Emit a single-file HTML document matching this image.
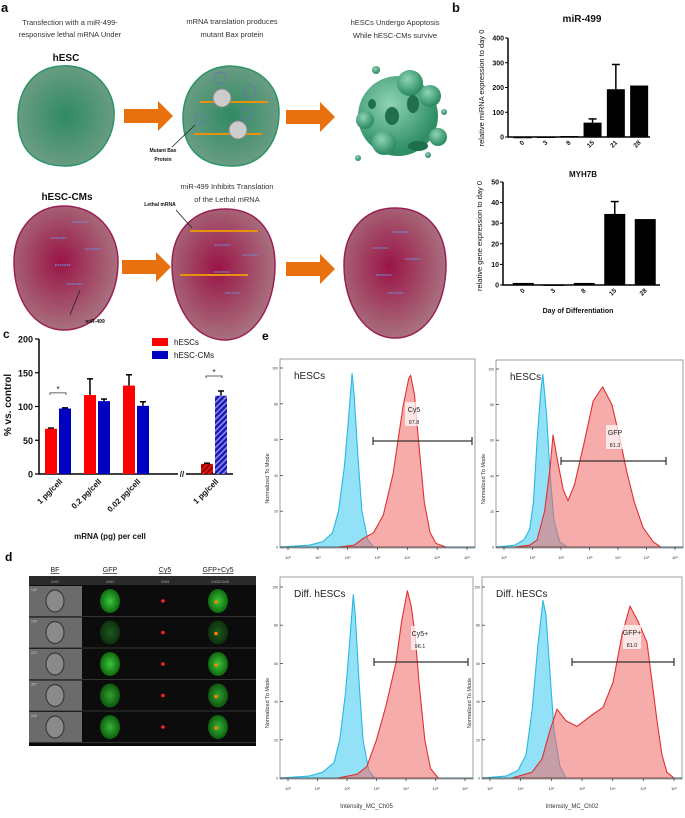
<!DOCTYPE html>
<html><head><meta charset="utf-8"><style>
html,body{margin:0;padding:0;background:#fff;}
svg{display:block;font-family:"Liberation Sans",sans-serif;}
</style></head><body>
<svg id="fig" width="685" height="818" viewBox="0 0 685 818" xmlns="http://www.w3.org/2000/svg">
<defs>
<radialGradient id="gG" cx="50%" cy="50%" r="55%"><stop offset="0" stop-color="#2f8a62"/><stop offset="1" stop-color="#6e9e86"/></radialGradient>
<radialGradient id="gP" cx="45%" cy="45%" r="55%"><stop offset="0" stop-color="#9a1446"/><stop offset="1" stop-color="#a8707e"/></radialGradient>
<radialGradient id="gB" cx="40%" cy="35%" r="60%"><stop offset="0" stop-color="#8fd4b4"/><stop offset="1" stop-color="#2f8e66"/></radialGradient>
<radialGradient id="gGFP" cx="50%" cy="50%" r="50%"><stop offset="0" stop-color="#3ec63e"/><stop offset="1" stop-color="#0d6a0d"/></radialGradient>
<pattern id="hatchR" width="4" height="4" patternUnits="userSpaceOnUse" patternTransform="rotate(45)"><rect width="4" height="4" fill="#e01010"/><rect width="1.5" height="4" fill="#7a0000"/></pattern>
<pattern id="hatchB" width="4" height="4" patternUnits="userSpaceOnUse" patternTransform="rotate(45)"><rect width="4" height="4" fill="#1a1ab8"/><rect width="1.5" height="4" fill="#8f8fe8"/></pattern>
</defs>

<!-- PANEL A -->
<g font-size="7.5" fill="#333" text-anchor="middle">
<text x="1" y="12" font-size="13" font-weight="bold" text-anchor="start" fill="#000">a</text>
<text x="70" y="25">Transfection with a miR-499-</text>
<text x="70" y="37">responsive lethal mRNA Under</text>
<text x="232" y="24">mRNA translation produces</text>
<text x="232" y="37">mutant Bax protein</text>
<text x="395" y="25">hESCs Undergo Apoptosis</text>
<text x="395" y="38">While hESC-CMs survive</text>
<text x="66" y="61" font-size="10" font-weight="bold" fill="#111">hESC</text>
<path d="M62 66 C90 64 112 85 114 110 C116 140 95 166 66 166 C35 166 18 150 18 118 C18 88 35 67 62 66Z" fill="url(#gG)" stroke="#2a9468" stroke-width="1.5"/>
<path d="M124 109 h34 v-8 l15 15 l-15 15 v-8 h-34z" fill="#e8700f"/>
<path d="M228 66 C262 66 279 88 279 112 C279 142 262 166 232 166 C200 166 183 148 183 118 C183 90 200 68 228 66Z" fill="url(#gG)" stroke="#2a9468" stroke-width="1.5"/>
<line x1="200" y1="102" x2="268" y2="102" stroke="#e8900f" stroke-width="2"/>
<line x1="194" y1="134" x2="262" y2="134" stroke="#e8900f" stroke-width="2"/>
<circle cx="222" cy="98" r="9" fill="#ccc" stroke="#888"/>
<circle cx="238" cy="130" r="9" fill="#ccc" stroke="#888"/>
<g fill="none" stroke="#6678a8" stroke-width="1"><circle cx="220" cy="78" r="6"/><circle cx="250" cy="91" r="6"/><circle cx="200" cy="119" r="5"/><circle cx="246" cy="114" r="6"/></g>
<line x1="172" y1="147" x2="195" y2="125" stroke="#222" stroke-width="0.8"/>
<text x="163" y="152" font-size="5" font-weight="bold" fill="#111">Mutant Bax</text>
<text x="163" y="161" font-size="5" font-weight="bold" fill="#111">Protein</text>
<path d="M286 110 h34 v-8 l15 15 l-15 15 v-8 h-34z" fill="#e8700f"/>
<g>
<circle cx="398" cy="116" r="40" fill="url(#gB)"/>
<circle cx="410" cy="83" r="13" fill="url(#gB)"/><circle cx="430" cy="96" r="11" fill="url(#gB)"/><circle cx="365" cy="120" r="9" fill="url(#gB)"/><circle cx="384" cy="143" r="12" fill="url(#gB)"/><circle cx="438" cy="137" r="9" fill="url(#gB)"/><circle cx="376" cy="70" r="4" fill="url(#gB)"/><circle cx="444" cy="112" r="3" fill="url(#gB)"/><circle cx="358" cy="158" r="3" fill="url(#gB)"/><circle cx="428" cy="155" r="3" fill="url(#gB)"/>
<ellipse cx="392" cy="116" rx="7" ry="9" fill="#1f6e4c"/><ellipse cx="413" cy="104" rx="6" ry="9" fill="#1f6e4c"/><ellipse cx="418" cy="146" rx="10" ry="5" fill="#1f6e4c"/><ellipse cx="372" cy="104" rx="4" ry="5" fill="#1f6e4c"/>
</g>
<text x="227" y="189">miR-499 Inhibits Translation</text>
<text x="227" y="202">of the Lethal mRNA</text>
<text x="67" y="200" font-size="10" font-weight="bold" fill="#111">hESC-CMs</text>
<path d="M64 206 C95 206 118 230 118 262 C118 300 96 330 64 330 C34 330 14 300 14 262 C14 230 34 206 64 206Z" fill="url(#gP)" stroke="#9a1f55" stroke-width="1.5"/>
<path d="M122 260 h34 v-8 l15 15 l-15 15 v-8 h-34z" fill="#e8700f"/>
<path d="M225 209 C258 209 275 232 275 265 C275 305 255 340 225 340 C193 340 172 305 172 265 C172 232 193 209 225 209Z" fill="url(#gP)" stroke="#9a1f55" stroke-width="1.5"/>
<line x1="190" y1="231" x2="258" y2="231" stroke="#e8900f" stroke-width="2"/>
<line x1="180" y1="275" x2="248" y2="275" stroke="#e8900f" stroke-width="2"/>
<text x="160" y="206" font-size="5" font-weight="bold" fill="#111">Lethal mRNA</text>
<line x1="176" y1="210" x2="192" y2="228" stroke="#222" stroke-width="0.8"/>
<path d="M286 262 h34 v-8 l15 15 l-15 15 v-8 h-34z" fill="#e8700f"/>
<path d="M395 208 C428 208 446 232 446 265 C446 305 426 338 395 338 C365 338 344 305 344 265 C344 232 364 208 395 208Z" fill="url(#gP)" stroke="#9a1f55" stroke-width="1.5"/>
<g stroke="#7a82c8" stroke-width="1.5" stroke-dasharray="1.5 0.8">
<line x1="72" y1="222" x2="88" y2="222"/><line x1="51" y1="238" x2="67" y2="238"/><line x1="85" y1="249" x2="101" y2="249"/><line x1="55" y1="265" x2="71" y2="265"/><line x1="67" y1="284" x2="83" y2="284"/>
<line x1="215" y1="245" x2="231" y2="245"/><line x1="243" y1="255" x2="259" y2="255"/><line x1="225" y1="293" x2="241" y2="293"/><line x1="214" y1="272" x2="230" y2="272"/>
<line x1="393" y1="232" x2="409" y2="232"/><line x1="373" y1="248" x2="389" y2="248"/><line x1="405" y1="259" x2="421" y2="259"/><line x1="376" y1="275" x2="392" y2="275"/><line x1="388" y1="293" x2="404" y2="293"/>
</g>
<line x1="80" y1="290" x2="70" y2="315" stroke="#222" stroke-width="0.8"/>
<text x="95" y="323" font-size="5" font-weight="bold" fill="#111">miR-499</text>
</g>

<!-- PANEL B -->
<g id="panelB" font-size="7" fill="#111">
<text x="452" y="12" font-size="13" font-weight="bold">b</text>
<text x="582" y="22" font-size="10" font-weight="bold" text-anchor="middle">miR-499</text>
<text x="583" y="177" font-size="8" font-weight="bold" text-anchor="middle">MYH7B</text>
<text transform="translate(484,88) rotate(-90)" font-size="7.5" text-anchor="middle">relative miRNA expression to day 0</text>
<text transform="translate(482,236) rotate(-90)" font-size="7.5" text-anchor="middle">relative gene expression to day 0</text>
<text x="578" y="313" font-size="7" font-weight="bold" text-anchor="middle">Day of Differentiation</text>
</g>

<!-- PANEL C -->
<g id="panelC" fill="#111">
<text x="3" y="338" font-size="12" font-weight="bold">c</text>
<text transform="translate(11,405) rotate(-90)" font-size="10" font-weight="bold" text-anchor="middle">% vs. control</text>
<text x="110" y="539" font-size="8" font-weight="bold" text-anchor="middle">mRNA (pg) per cell</text>
<rect x="152" y="338" width="16" height="8" fill="#ff0000"/>
<text x="174" y="345" font-size="8">hESCs</text>
<rect x="152" y="351" width="16" height="8" fill="#0000c0"/>
<text x="174" y="358" font-size="8">hESC-CMs</text>
</g>

<!-- PANEL D -->
<g id="panelD">
<text x="5" y="561" font-size="12" font-weight="bold">d</text>
<g font-size="7" fill="#222" text-anchor="middle" text-decoration="underline">
<text x="55" y="572">BF</text>
<text x="110" y="572">GFP</text>
<text x="165" y="572">Cy5</text>
<text x="218" y="572">GFP+Cy5</text>
</g>
<rect x="29" y="576" width="227" height="170" fill="#0c0c0c"/>
<rect x="29" y="576" width="227" height="9" fill="#2a2a2a"/>
<g font-size="3.5" fill="#aaa" text-anchor="middle"><text x="55" y="583">Ch01</text><text x="110" y="583">Ch02</text><text x="165" y="583">Ch05</text><text x="220" y="583">Ch02/Ch05</text></g>
</g>

<!-- PANEL E -->
<g id="panelE">
<text x="262" y="340" font-size="12" font-weight="bold">e</text>
</g>
</svg>

<script>
var NS="http://www.w3.org/2000/svg";
function mk(parent,tag,attrs,text){var e=document.createElementNS(NS,tag);for(var k in attrs)e.setAttribute(k,attrs[k]);if(text!==undefined)e.textContent=text;parent.appendChild(e);return e;}

/* ---------- Panel B data ---------- */
var mirDays=["0","3","8","15","21","28"];
var mirValues=[1,2,4,58,193,208];
var mirErrors=[0,0,0,15,100,0];
var mirTicks=[0,100,200,300,400];
var myhDays=["0","3","8","15","28"];
var myhValues=[1,0.3,1,34.5,32];
var myhErrors=[0,0,0,6,0];
var myhTicks=[0,10,20,30,40,50];

function barChart(g,cfg){
  var yS=function(v){return cfg.y0-(v/cfg.max)*(cfg.y0-cfg.y1);};
  var xS=function(i){return cfg.xStart+(i+0.5)*cfg.step;};
  var ax=mk(g,"path",{d:"M"+cfg.ax+" "+cfg.y1+" V"+cfg.y0+" H"+cfg.axEnd,stroke:"#000","stroke-width":1.5,fill:"none"});
  
  
  cfg.ticks.forEach(function(t){
    var y=yS(t);
    mk(g,"line",{x1:cfg.ax-3,x2:cfg.ax,y1:y,y2:y,stroke:"#000","stroke-width":1});
    var tl=mk(g,"text",{x:cfg.ax-4,y:y+2.5,"font-size":7,"font-weight":"bold","text-anchor":"end"},String(t));
    
    
  });
  cfg.cats.forEach(function(c,i){
    var x=xS(i),v=cfg.vals[i],e=cfg.errs[i];
    if(e>0){mk(g,"line",{x1:x,x2:x,y1:yS(v),y2:yS(v+e),stroke:"#000","stroke-width":1.5});
      mk(g,"line",{x1:x-4,x2:x+4,y1:yS(v+e),y2:yS(v+e),stroke:"#000","stroke-width":1.5});}
    var b=mk(g,"rect",{x:x-cfg.bw/2,y:yS(v),width:cfg.bw,height:Math.max(1.5,cfg.y0-yS(v)),fill:"#000"});
    
    
    var tl=mk(g,"text",{x:0,y:0,"font-size":6.5,"font-weight":"bold","text-anchor":"end",transform:"translate("+(x+2)+","+(cfg.y0+6)+") rotate(-45)"},c);
    
    
  });
}
var gB=document.getElementById("panelB");
barChart(gB,{name:"mir499",cats:mirDays,vals:mirValues,errs:mirErrors,ticks:mirTicks,max:400,y0:137,y1:38,ax:508,axEnd:650,xStart:511,step:23.3,bw:18});
barChart(gB,{name:"myh7b",cats:myhDays,vals:myhValues,errs:myhErrors,ticks:myhTicks,max:50,y0:285,y1:182,ax:503,axEnd:660,xStart:508,step:30.5,bw:21});

/* ---------- Panel C data ---------- */
var cCategories=["1 pg/cell","0.2 pg/cell","0.02 pg/cell","1 pg/cell"];
var hescValues=[67,117,131,15];
var hescErrors=[1,24,16,1];
var cmValues=[97,108,101,116];
var cmErrors=[1,3,6,7];
var cTicks=[0,50,100,150,200];
var cSignificant=[true,false,false,true];
(function(){
  var g=document.getElementById("panelC");
  var y0=474,y1=339,max=200;
  var yS=function(v){return y0-(v/max)*(y0-y1);};
  var groupX=[45,84,123,201];
  var ax=mk(g,"path",{d:"M39 "+y1+" V"+y0+" H233",stroke:"#000","stroke-width":1.5,fill:"none"});
  
  
  mk(g,"rect",{x:178,y:y0-4,width:8,height:8,fill:"#fff"});
  var br=mk(g,"text",{x:182,y:y0+3,"font-size":8,"font-weight":"bold","text-anchor":"middle"},"//");
  
  
  cTicks.forEach(function(t){var y=yS(t);
    mk(g,"line",{x1:35,x2:39,y1:y,y2:y,stroke:"#000","stroke-width":1.2});
    var tl=mk(g,"text",{x:33,y:y+3.5,"font-size":9,"font-weight":"bold","text-anchor":"end"},String(t));
    
    });
  cCategories.forEach(function(c,i){
    var gx=groupX[i],bw=12,hatch=(i===3);
    [[hescValues[i],hescErrors[i],gx,hatch?"url(#hatchR)":"#ff0000","hescs"],[cmValues[i],cmErrors[i],gx+14,hatch?"url(#hatchB)":"#0000c0","hesc-cms"]].forEach(function(s){
      var x=s[2],v=s[0],e=s[1];
      mk(g,"line",{x1:x+bw/2,x2:x+bw/2,y1:yS(v),y2:yS(v+e),stroke:"#000","stroke-width":1.5});
      mk(g,"line",{x1:x+bw/2-3,x2:x+bw/2+3,y1:yS(v+e),y2:yS(v+e),stroke:"#000","stroke-width":1.5});
      var b=mk(g,"rect",{x:x,y:yS(v),width:bw,height:y0-yS(v),fill:s[3]});
      
      
    });
    if(cSignificant[i]){var top=yS(Math.max(hescValues[i]+hescErrors[i],cmValues[i]+cmErrors[i]))-15;
      mk(g,"path",{d:"M"+(gx+5)+" "+(top+2)+" V"+top+" H"+(gx+21)+" V"+(top+2),stroke:"#333",fill:"none","stroke-width":0.8});
      var st=mk(g,"text",{x:gx+13,y:top-1,"font-size":8,"text-anchor":"middle"},"*");
      
      }
    var tl=mk(g,"text",{x:0,y:0,"font-size":8,"font-weight":"bold","text-anchor":"end",transform:"translate("+(gx+18)+","+(y0+8)+") rotate(-45)"},c);
    
    
  });
})();

/* ---------- Panel D (imaging rows) ---------- */
var dRowIds=["142","190","222","357","546"];
var dGfpBright=[1,0.4,1,0.8,0.9];
(function(){
  var g=document.getElementById("panelD");
  dRowIds.forEach(function(id,r){
    var y=586+r*31.5;
    var bf=mk(g,"rect",{x:29,y:y,width:53,height:30,fill:"#6b6b6b"});
    
    
    mk(g,"text",{x:31,y:y+5,"font-size":3.5,fill:"#ccc"},id);
    mk(g,"ellipse",{cx:55,cy:y+15,rx:9,ry:11,fill:"#8a8a8a",stroke:"#3a3a3a","stroke-width":1.2});
    var gf=mk(g,"ellipse",{cx:110,cy:y+15,rx:10,ry:12,fill:"url(#gGFP)",opacity:dGfpBright[r]});
    
    
    mk(g,"circle",{cx:163,cy:y+15,r:1.8,fill:"#ff2020"});
    mk(g,"ellipse",{cx:218,cy:y+15,rx:10,ry:12,fill:"url(#gGFP)",opacity:dGfpBright[r]});
    mk(g,"circle",{cx:216,cy:y+16,r:1.8,fill:"#ff8000"});
    mk(g,"line",{x1:29,x2:256,y1:y+30.5,y2:y+30.5,stroke:"#333","stroke-width":1});
  });
})();

/* ---------- Panel E histograms (x: % of axis, y: % of mode) ---------- */
var tlCyanX=[0,15,22,27,30,33,35,37,38,40,42,45,48,100];
var tlCyanY=[0,1,3,8,20,45,70,97,85,50,20,4,0,0];
var tlRedX=[30,38,43,48,53,58,63,66,67,69,71,74,77,80,85];
var tlRedY=[0,1,5,8,18,41,78,94,96,85,60,25,8,2,0];
var trCyanX=[0,10,15,18,20,22,24,25,27,29,31,34,38,100];
var trCyanY=[0,1,4,10,25,60,88,97,75,40,15,3,0,0];
var trRedX=[10,18,22,26,29,30.5,33,36,38.5,42,47,52,57,62,66,70,74,78.6,84,88];
var trRedY=[0,1,4,20,45,63,48,32,26,35,58,82,90,80,62,42,25,11,3,0];
var blCyanX=[0,15,22,28,31,34,36,38,39,41,43,46,49,100];
var blCyanY=[0,1,3,8,20,45,70,96,85,50,20,4,0,0];
var blRedX=[30,40,45,50,55,60,63,66,68,70,72,75,78,82];
var blRedY=[0,2,6,20,38,60,82,98,90,75,50,20,5,0];
var brCyanX=[0,12,18,22,25,28,30.5,32,34,36,39,42,100];
var brCyanY=[0,1,4,12,35,70,93,85,55,25,6,0,0];
var brRedX=[15,25,30,34,37.5,42,47.5,55,60.5,65.5,70,74,78,82.5,87.5,90,92.5,96];
var brRedY=[0,3,10,25,36,30,27,33,37,50,75,90,82,71,30,12,3,0];

var ePlots=[
 {name:"hescs-cy5",x:280,y:359,w:195,h:189,top:368,base:547,title:"hESCs",gate:"Cy5",pct:"97.8",gy:441,gx1:373,gx2:472,lx:414,ly:412,cx:tlCyanX,cy:tlCyanY,rx:tlRedX,ry:tlRedY,axis:""},
 {name:"hescs-gfp",x:496,y:360,w:187,h:188,top:369,base:547,title:"hESCs",gate:"GFP",pct:"81.3",gy:461,gx1:561,gx2:666,lx:615,ly:435,cx:trCyanX,cy:trCyanY,rx:trRedX,ry:trRedY,axis:""},
 {name:"diff-hescs-cy5",x:280,y:577,w:193,h:202,top:587,base:778,title:"Diff. hESCs",gate:"Cy5+",pct:"96.1",gy:662,gx1:374,gx2:468,lx:420,ly:636,cx:blCyanX,cy:blCyanY,rx:blRedX,ry:blRedY,axis:"Intensity_MC_Ch05"},
 {name:"diff-hescs-gfp",x:482,y:577,w:200,h:202,top:587,base:778,title:"Diff. hESCs",gate:"GFP+",pct:"81.0",gy:662,gx1:572,gx2:674,lx:632,ly:635,cx:brCyanX,cy:brCyanY,rx:brRedX,ry:brRedY,axis:"Intensity_MC_Ch02"}
];
(function(){
  var g=document.getElementById("panelE");
  ePlots.forEach(function(p){
    var box=mk(g,"rect",{x:p.x,y:p.y,width:p.w,height:p.h,fill:"#fff",stroke:"#888","stroke-width":0.8});
    
    
    var xS=function(v){return p.x+v/100*p.w;};
    var yS=function(v){return p.base-v/100*(p.base-p.top);};
    function area(xs,ys,fill,stroke,nm){
      var d="M"+xS(xs[0])+" "+p.base;
      for(var i=0;i<xs.length;i++)d+=" L"+xS(xs[i]).toFixed(1)+" "+yS(ys[i]).toFixed(1);
      d+=" L"+xS(xs[xs.length-1])+" "+p.base+"Z";
      var a=mk(g,"path",{d:d,fill:fill,"fill-opacity":0.55,stroke:stroke,"stroke-width":1.1,"stroke-linejoin":"round"});
      
      
    }
    area(p.cx,p.cy,"#38c8f0","#28b8e0",p.name+'-control-histogram');
    area(p.rx,p.ry,"#f06868","#e03030",p.name+'-stained-histogram');
    mk(g,"line",{x1:p.x,x2:p.x+p.w,y1:p.base,y2:p.base,stroke:"#555","stroke-width":0.8});
    for(var t=0;t<=100;t+=20){var y=yS(t);mk(g,"line",{x1:p.x,x2:p.x+3,y1:y,y2:y,stroke:"#444","stroke-width":0.8});
      mk(g,"text",{x:p.x-2,y:y+1.5,"font-size":3.5,"text-anchor":"end",fill:"#333"},String(t));}
    for(var k=0;k<7;k++){var x=p.x+8+k*(p.w-16)/6;mk(g,"line",{x1:x,x2:x,y1:p.base,y2:p.base+3,stroke:"#444","stroke-width":0.8});
      mk(g,"text",{x:x,y:p.base+12,"font-size":4,"text-anchor":"middle",fill:"#333"},"10"+String.fromCharCode([8304,185,178,179,8308,8309,8310][k]));}
    var tt=mk(g,"text",{x:p.x+14,y:p.y+20,"font-size":10,fill:"#222"},p.title);
    
    
    mk(g,"rect",{x:p.lx-9,y:p.ly-10,width:18,height:24,fill:"#fff","fill-opacity":0.7});
    var gl=mk(g,"text",{x:p.lx,y:p.ly,"font-size":7,"text-anchor":"middle",fill:"#222"},p.gate);
    
    
    var pc=mk(g,"text",{x:p.lx,y:p.ly+12,"font-size":5.5,"text-anchor":"middle",fill:"#222"},p.pct);
    
    
    var gt=mk(g,"path",{d:"M"+p.gx1+" "+(p.gy-4)+" v8 M"+p.gx1+" "+p.gy+" H"+p.gx2+" M"+p.gx2+" "+(p.gy-4)+" v8",stroke:"#333","stroke-width":1.2,fill:"none"});
    
    
    var yl=mk(g,"text",{transform:"translate("+(p.x-11)+","+(p.y+p.h/2+25)+") rotate(-90)","font-size":5.5,"text-anchor":"middle",fill:"#333"},"Normalized To Mode");
    
    
    if(p.axis){var xl=mk(g,"text",{x:p.x+p.w/2-10,y:808,"font-size":6,"text-anchor":"middle",fill:"#333"},p.axis);
      
      }
  });
})();
</script>
</body></html>
